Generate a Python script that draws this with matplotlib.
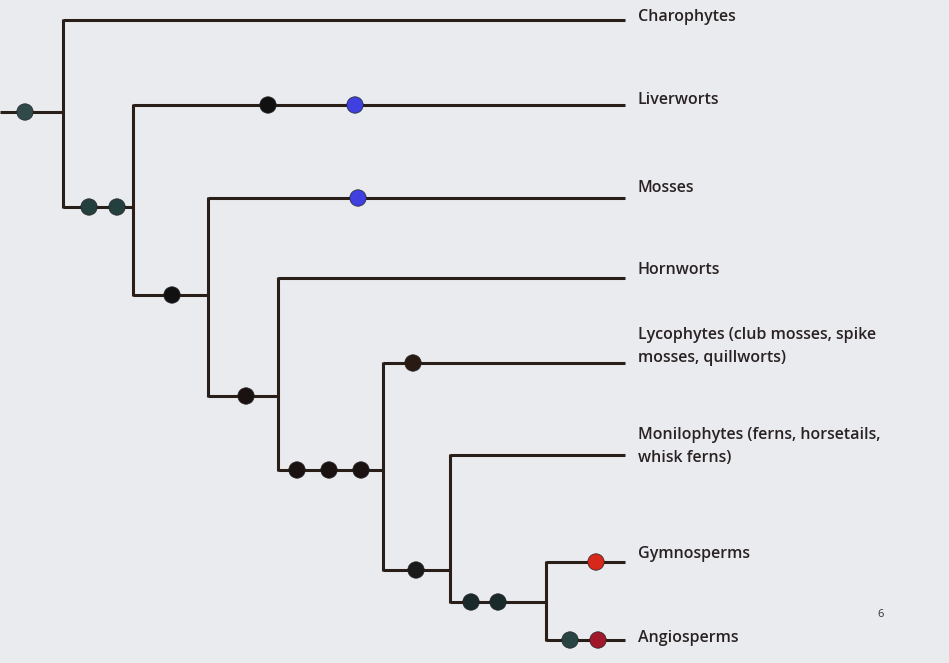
import matplotlib
matplotlib.use("Agg")
import matplotlib.pyplot as plt

# taxa: label, y of tip line, x where tip line starts
taxa = ["Charophytes", "Liverworts", "Mosses", "Hornworts",
        "Lycophytes (club mosses, spike\nmosses, quillworts)",
        "Monilophytes (ferns, horsetails,\nwhisk ferns)", "Gymnosperms", "Angiosperms"]
tip_y = [20, 105, 198, 278, 363, 455, 562, 640]
tip_x0 = [63, 133, 208, 278, 383, 450, 546, 546]
label_y = [17, 100, 188, 270, 327, 427, 554, 638]
# internal stems: (x0, x1, y)
stems_x0 = [0, 63, 133, 208, 278, 383, 450]
stems_x1 = [63, 133, 208, 278, 383, 450, 546]
stems_y = [112, 207, 295, 396, 470, 570, 602]
# verticals: x, y top, y bottom
vert_x = [63, 133, 208, 278, 383, 450, 546]
vert_top = [20, 105, 198, 278, 363, 455, 562]
vert_bot = [207, 295, 396, 470, 570, 602, 640]
# synapomorphy dots
dot_x = [25, 89, 117, 268, 355, 358, 172, 246, 297, 329, 361, 413, 416, 471, 498, 596, 570, 598]
dot_y = [112, 207, 207, 105, 105, 198, 295, 396, 470, 470, 470, 363, 570, 602, 602, 562, 640, 640]
dot_c = ["#2f4a48", "#24403e", "#24403e", "#111111", "#4040e0", "#4040e0", "#111111", "#1a1210",
         "#1a1210", "#1a1210", "#1a1210", "#2a1a14", "#1a1a1a", "#1a2a2a", "#1a2a2a", "#d8281c",
         "#2a4444", "#a0182a"]
tip_end = 625
lc = "#2a1e18"

fig = plt.figure(figsize=(9.49, 6.63), dpi=100)
fig.patch.set_facecolor("#e9ebef")
ax = fig.add_axes([0, 0, 1, 1])
ax.set_facecolor("#e9ebef")
ax.set_xlim(0, 949); ax.set_ylim(663, 0); ax.axis("off")

for y, x0 in zip(tip_y, tip_x0):
    ax.plot([x0, tip_end], [y, y], color=lc, lw=2.2, solid_capstyle="butt")
for x0, x1, y in zip(stems_x0, stems_x1, stems_y):
    ax.plot([x0, x1], [y, y], color=lc, lw=2.2, solid_capstyle="butt")
for x, t, b in zip(vert_x, vert_top, vert_bot):
    ax.plot([x, x], [t - 1, b + 1], color=lc, lw=2.2, solid_capstyle="butt")
ax.scatter(dot_x, dot_y, s=140, c=dot_c, zorder=5, edgecolors="#222222", linewidths=0.5)
for lab, y in zip(taxa, label_y):
    ax.text(638, y, lab, fontsize=11.5, fontweight="semibold", family="Open Sans",
            color="#2a2222", va="top" if "\n" in lab else "center", linespacing=1.6)
ax.text(877, 617, "6", fontsize=8, color="#333333", family="Open Sans")
fig.savefig("out.png", dpi=100, facecolor=fig.get_facecolor())
